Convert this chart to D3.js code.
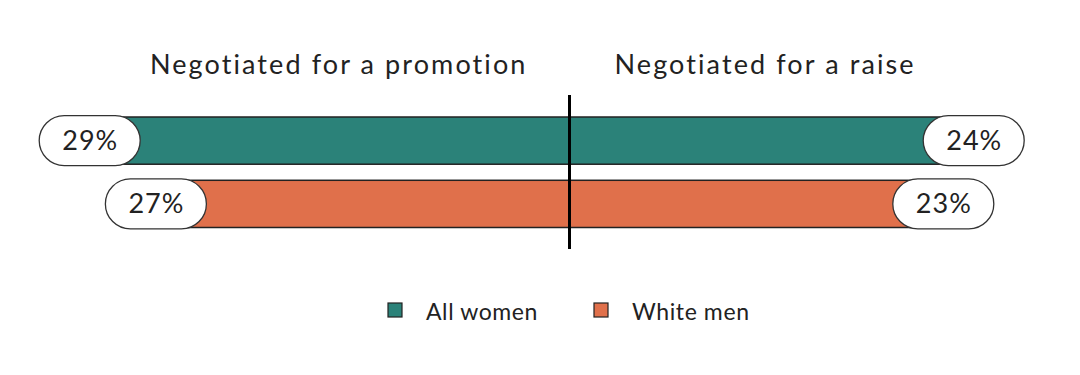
<!DOCTYPE html>
<html lang="en">
<head>
    <meta charset="UTF-8">
    <title>Negotiation diverging bars</title>
    <script src="https://d3js.org/d3.v7.min.js"></script>
    <style>
        body { margin: 0; background: #fff; }
        svg text { font-family: Lato, "Open Sans", sans-serif; fill: #222; }
        .title { font-size: 27px; letter-spacing: 2.1px; }
        .pct { font-size: 27px; letter-spacing: 1px; }
        .legend text { font-size: 23px; letter-spacing: 0.6px; }
    </style>
</head>
<body>
    <svg id="chart" width="1080" height="375"></svg>
    <script>
        // Data
        var groups = ["All women", "White men"];
        var promotion = [29, 27];
        var raise = [24, 23];
        var sections = ["Negotiated for a promotion", "Negotiated for a raise"];
        var colors = ["#2b8279", "#e0704b"];

        var centerX = 569.5;
        var pillW = 101, pillH = 50;

        var svg = d3.select("#chart");

        // row positions
        var y = d3.scaleBand()
            .domain(groups)
            .range([117, 227.5])
            .paddingInner(0.254)
            .paddingOuter(0);

        // each side has its own scale (bars don't start at zero in the original)
        var xLeft = d3.scaleLinear().domain([14.5, 29]).range([centerX, 89.7]);
        var xRight = d3.scaleLinear().domain([10.7, 24]).range([centerX, 973.7]);

        // Left bars (promotion)
        svg.append("g").selectAll("rect")
            .data(groups)
            .join("rect")
            .attr("x", function(d, i) { return xLeft(promotion[i]); })
            .attr("y", function(d) { return y(d); })
            .attr("width", function(d, i) { return centerX - xLeft(promotion[i]); })
            .attr("height", y.bandwidth())
            .attr("fill", function(d, i) { return colors[i]; })
            .attr("stroke", "#222")
            .attr("stroke-width", 1.5);

        // Right bars (raise)
        svg.append("g").selectAll("rect")
            .data(groups)
            .join("rect")
            .attr("x", centerX)
            .attr("y", function(d) { return y(d); })
            .attr("width", function(d, i) { return xRight(raise[i]) - centerX; })
            .attr("height", y.bandwidth())
            .attr("fill", function(d, i) { return colors[i]; })
            .attr("stroke", "#222")
            .attr("stroke-width", 1.5);

        // Center line
        svg.append("line")
            .attr("x1", centerX).attr("x2", centerX)
            .attr("y1", 95).attr("y2", 249)
            .attr("stroke", "#000")
            .attr("stroke-width", 3);

        // Value pills
        function pills(values, scale) {
            var g = svg.append("g").selectAll("g")
                .data(groups)
                .join("g")
                .attr("transform", function(d, i) {
                    return "translate(" + scale(values[i]) + "," + (y(d) + y.bandwidth() / 2) + ")";
                });
            g.append("rect")
                .attr("x", -pillW / 2)
                .attr("y", -pillH / 2)
                .attr("width", pillW)
                .attr("height", pillH)
                .attr("rx", pillH / 2)
                .attr("fill", "#fff")
                .attr("stroke", "#333")
                .attr("stroke-width", 1.3);
            g.append("text")
                .attr("class", "pct")
                .attr("text-anchor", "middle")
                .attr("dx", 0.5)
                .attr("dy", "0.33em")
                .text(function(d, i) { return values[i] + "%"; });
        }
        pills(promotion, xLeft);
        pills(raise, xRight);

        // Section titles
        svg.append("text")
            .attr("class", "title")
            .attr("x", centerX - 42)
            .attr("y", 73.5)
            .attr("text-anchor", "end")
            .text(sections[0]);
        svg.append("text")
            .attr("class", "title")
            .attr("x", centerX + 45)
            .attr("y", 73.5)
            .attr("text-anchor", "start")
            .text(sections[1]);

        // Legend
        var legendX = d3.scalePoint().domain(groups).range([388, 594]);
        var legend = svg.append("g").attr("class", "legend")
            .selectAll("g")
            .data(groups)
            .join("g")
            .attr("transform", function(d) { return "translate(" + legendX(d) + ",303)"; });
        legend.append("rect")
            .attr("width", 14).attr("height", 14)
            .attr("fill", function(d, i) { return colors[i]; })
            .attr("stroke", "#222")
            .attr("stroke-width", 1.2);
        legend.append("text")
            .attr("x", 38)
            .attr("y", 17)
            .text(function(d) { return d; });
    </script>
</body>
</html>
